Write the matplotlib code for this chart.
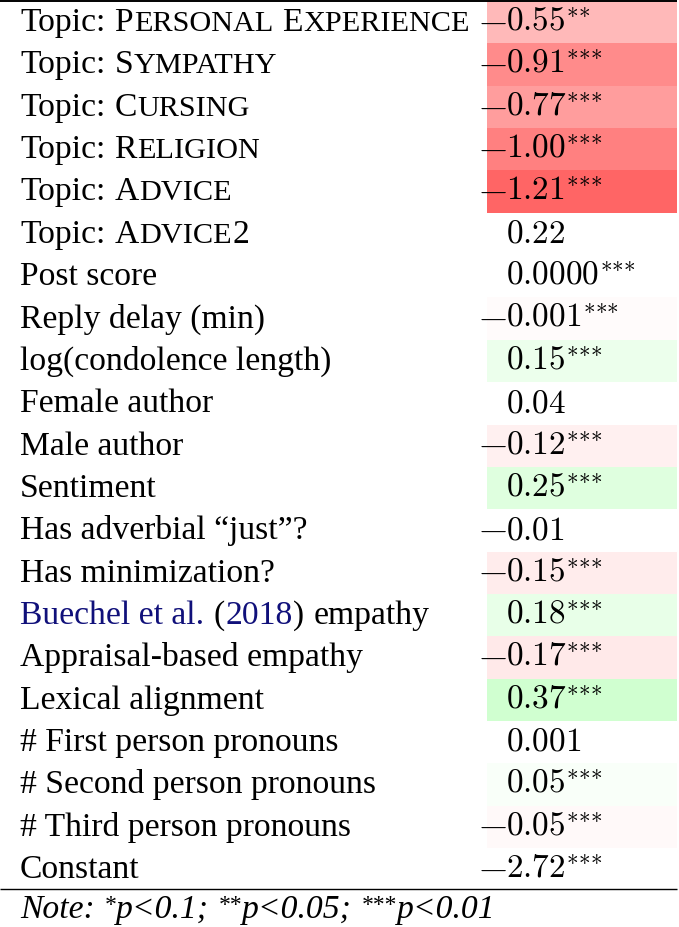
import matplotlib.pyplot as plt
from matplotlib.patches import Rectangle

# table content
topic_names = ["Personal Experience", "Sympathy", "Cursing", "Religion", "Advice", "Advice2"]
other_labels = ["Post score", "Reply delay (min)", "log(condolence length)", "Female author",
                "Male author", "Sentiment", "Has adverbial \u201cjust\u201d?", "Has minimization?",
                "Buechel et al. (2018) empathy", "Appraisal-based empathy", "Lexical alignment",
                "# First person pronouns", "# Second person pronouns", "# Third person pronouns",
                "Constant"]
coefs = ["-0.55", "-0.91", "-0.77", "-1.00", "-1.21", "0.22", "0.0000", "-0.001", "0.15", "0.04",
         "-0.12", "0.25", "-0.01", "-0.15", "0.18", "-0.17", "0.37", "0.001", "0.05", "-0.05",
         "-2.72"]
stars = ["**", "***", "***", "***", "***", "", "***", "***", "***", "", "***", "***", "", "***",
         "***", "***", "***", "", "***", "***", "***"]
shaded = [True, True, True, True, True, False, False, True, True, False, True, True, False, True,
          True, True, True, False, True, True, False]

FS = 24.2
SC = 0.9
ROW_H = 42.35
TOP = 1.0
LEFT = 20
CELL_X0, CELL_X1 = 487, 677
NUM_X = 506
SERIF = "Liberation Serif"
NAVY = "#10107a"

fig = plt.figure(figsize=(6.79, 9.27), dpi=100)
ax = fig.add_axes([0, 0, 1, 1])
ax.set_xlim(0, 679)
ax.set_ylim(927, 0)
ax.axis("off")
renderer = fig.canvas.get_renderer()


def px(size):
    return size * 100 / 72


def draw_runs(x, y, runs):
    # runs: (text, size, color, style, raise_px); text None means a space
    for text, size, color, style, dy in runs:
        if text is None:
            x += 0.25 * px(size)
            continue
        t = ax.text(x, y - dy, text, fontsize=size, family=SERIF, color=color,
                    style=style, va="baseline", ha="left")
        x += t.get_window_extent(renderer).width + 0.02 * px(size)
    return x


def small_caps(word):
    runs = [(word[0].upper(), FS, "black", "normal", 0)]
    buf, small = "", True
    for ch in word[1:]:
        is_small = ch.isalpha()
        if buf and is_small != small:
            runs.append((buf, FS * SC if small else FS, "black", "normal", 0))
            buf = ""
        small = is_small
        buf += ch.upper() if is_small else ch
    if buf:
        runs.append((buf, FS * SC if small else FS, "black", "normal", 0))
    return runs


for i, val in enumerate(coefs):
    top = TOP + i * ROW_H
    base = top + 30
    v = float(val)
    if shaded[i]:
        a = max(abs(v) / 2, 0.015)
        col = (1, 1 - a, 1 - a) if v < 0 else (1 - a, 1, 1 - a)
        ax.add_patch(Rectangle((CELL_X0, top), CELL_X1 - CELL_X0, ROW_H, facecolor=col,
                               edgecolor="none", zorder=0))
    # label
    if i < len(topic_names):
        runs = [("Topic:", FS, "black", "normal", 0), (None, FS, None, None, 0)]
        for k, w in enumerate(topic_names[i].split()):
            if k:
                runs.append((None, FS, None, None, 0))
            runs += small_caps(w)
        draw_runs(LEFT, base, runs)
    else:
        lab = other_labels[i - len(topic_names)]
        if lab.startswith("Buechel"):
            runs = [("Buechel et al.", FS, NAVY, "normal", 0), (None, FS, None, None, 0),
                    ("(", FS, "black", "normal", 0), ("2018", FS, NAVY, "normal", 0),
                    (")", FS, "black", "normal", 0), (None, FS, None, None, 0),
                    ("empathy", FS, "black", "normal", 0)]
            draw_runs(LEFT, base, runs)
        else:
            ax.text(LEFT, base, lab, fontsize=FS, family=SERIF, va="baseline", ha="left")
    # coefficient
    num = val.lstrip("-")
    s = num + ("^{%s}" % "".join("{*}" for _ in stars[i]) if stars[i] else "")
    ax.text(NUM_X, base, "$%s$" % s, fontsize=24, math_fontfamily="cm", va="baseline", ha="left")
    if val.startswith("-"):
        ax.text(NUM_X + 0.5, base + 1.7, "$-$", fontsize=24 * 1.2, math_fontfamily="cm",
                va="baseline", ha="right")

bottom = TOP + len(coefs) * ROW_H
ax.plot([0, 677], [1.2, 1.2], color="black", lw=1.4, solid_capstyle="butt")
ax.plot([0, 677], [bottom - 1.5, bottom - 1.5], color="black", lw=1.0, solid_capstyle="butt")

note_runs = [("Note:", FS, "black", "italic", 0), (None, FS, None, None, 0)]
for k, (st, txt) in enumerate([("*", "p<0.1;"), ("**", "p<0.05;"), ("***", "p<0.01")]):
    if k:
        note_runs.append((None, FS, None, None, 0))
    note_runs.append((st, FS * 0.7, "black", "italic", 7))
    note_runs.append((txt, FS, "black", "italic", 0))
draw_runs(LEFT, bottom + 28, note_runs)

fig.savefig("out.png", dpi=100)
